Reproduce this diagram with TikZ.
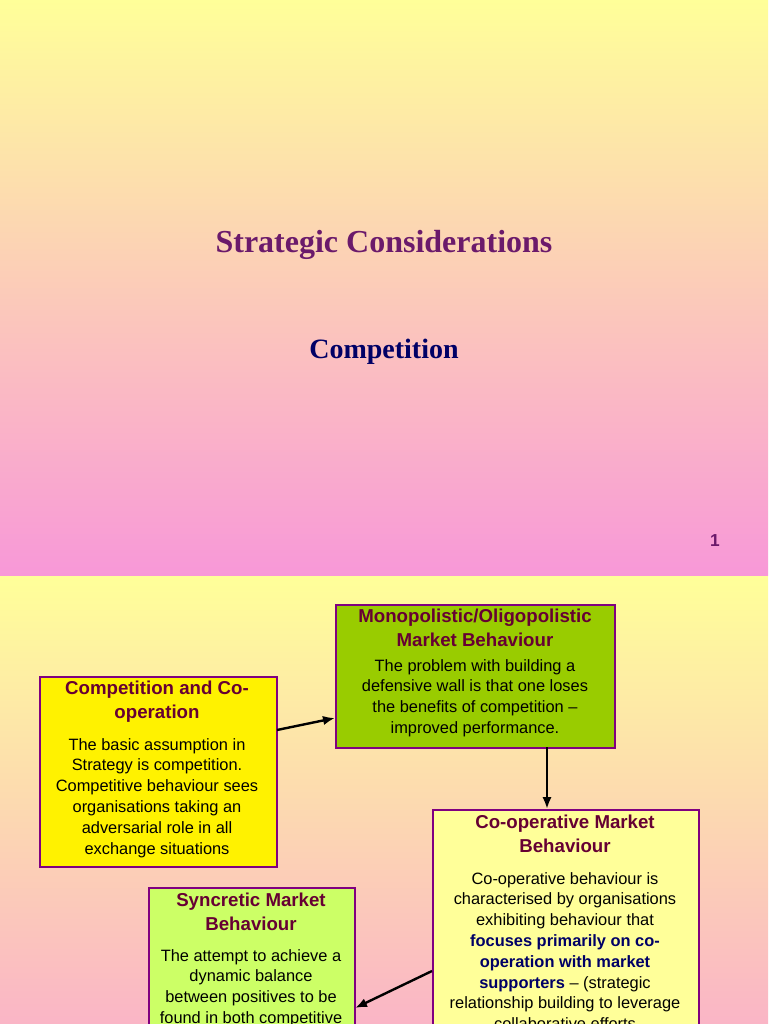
\documentclass[tikz,border=0pt]{standalone}
\usepackage{fontspec}
\setmainfont{Liberation Sans}
\newfontfamily\serifttl{Liberation Serif}
\usetikzlibrary{arrows.meta}
\definecolor{ylw}{HTML}{FFFF99}
\definecolor{pnk}{HTML}{F898D8}
\definecolor{purp}{HTML}{800080}
\definecolor{ttl}{HTML}{6B1A6B}
\definecolor{head}{HTML}{660033}
\definecolor{navy}{HTML}{000066}
\tikzset{
 box/.style={draw=purp,line width=1.6pt,inner sep=0pt,anchor=north west},
 hd/.style={anchor=north,align=center,text=head,font=\fontsize{14}{17.5}\selectfont\bfseries,inner sep=0pt},
 bd/.style={anchor=north,align=center,font=\fontsize{12.3}{15.6}\selectfont,inner sep=0pt},
 arr/.style={-{Latex[length=9pt,width=7pt]},line width=1.8pt}
}
\begin{document}
\begin{tikzpicture}[x=0.75pt,y=-0.75pt]
\useasboundingbox (0,0) rectangle (768,1024);
\clip (0,0) rectangle (768,1024);
\shade[top color=ylw,bottom color=pnk] (0,0) rectangle (768,575);
\shade[top color=ylw,bottom color=pnk] (0,576) rectangle (768,1200);
\node[text=ttl,font=\serifttl\fontsize{24}{28}\selectfont\bfseries] (t) at (384,245) {Strategic Considerations};
\node[text=navy,font=\serifttl\fontsize{21}{25}\selectfont\bfseries] (c) at (384,352) {Competition};
\node[text=ttl,font=\fontsize{13}{15}\selectfont\bfseries] (n) at (715,541) {1};
% boxes
\node[box,fill=yellow,minimum width=177.75pt,minimum height=142.5pt] (A) at (39,676) {};
\node[box,fill={rgb,255:red,153;green,204;blue,0},minimum width=209.25pt,minimum height=107.25pt] (B) at (335,604) {};
\node[box,fill=ylw,minimum width=199.5pt,minimum height=200pt] (C) at (432,809) {};
\node[box,fill={rgb,255:red,204;green,255;blue,102},minimum width=154.5pt,minimum height=150pt] (D) at (148,887) {};
% texts
\node[hd] (Ah) at (157,681) {Competition and Co-\\operation};
\node[bd] (Ab) at (157,738) {The basic assumption in\\Strategy is competition.\\Competitive behaviour sees\\organisations taking an\\adversarial role in all\\exchange situations};
\node[hd] (Bh) at (475,609) {Monopolistic/Oligopolistic\\Market Behaviour};
\node[bd] (Bb) at (475,659) {The problem with building a\\defensive wall is that one loses\\the benefits of competition --\\improved performance.};
\node[hd] (Ch) at (565,815) {Co-operative Market\\Behaviour};
\node[bd] (Cb) at (565,872) {Co-operative behaviour is\\characterised by organisations\\exhibiting behaviour that\\{\color{navy}\bfseries focuses primarily on co-}\\{\color{navy}\bfseries operation with market}\\{\color{navy}\bfseries supporters} -- (strategic\\relationship building to leverage\\collaborative efforts};
\node[hd] (Dh) at (251,893) {Syncretic Market\\Behaviour};
\node[bd] (Db) at (251,949) {The attempt to achieve a\\dynamic balance\\between positives to be\\found in both competitive};
% arrows
\coordinate (a1) at (277,730);
\coordinate (b1) at (335,718);
\draw[arr] (a1) -- (b1);
\coordinate (b2) at (547,747);
\coordinate (c2) at (547,809);
\draw[arr] (b2) -- (c2);
\coordinate (c3) at (432,971);
\coordinate (d3) at (355,1008);
\draw[arr] (c3) -- (d3);
\end{tikzpicture}
\end{document}
